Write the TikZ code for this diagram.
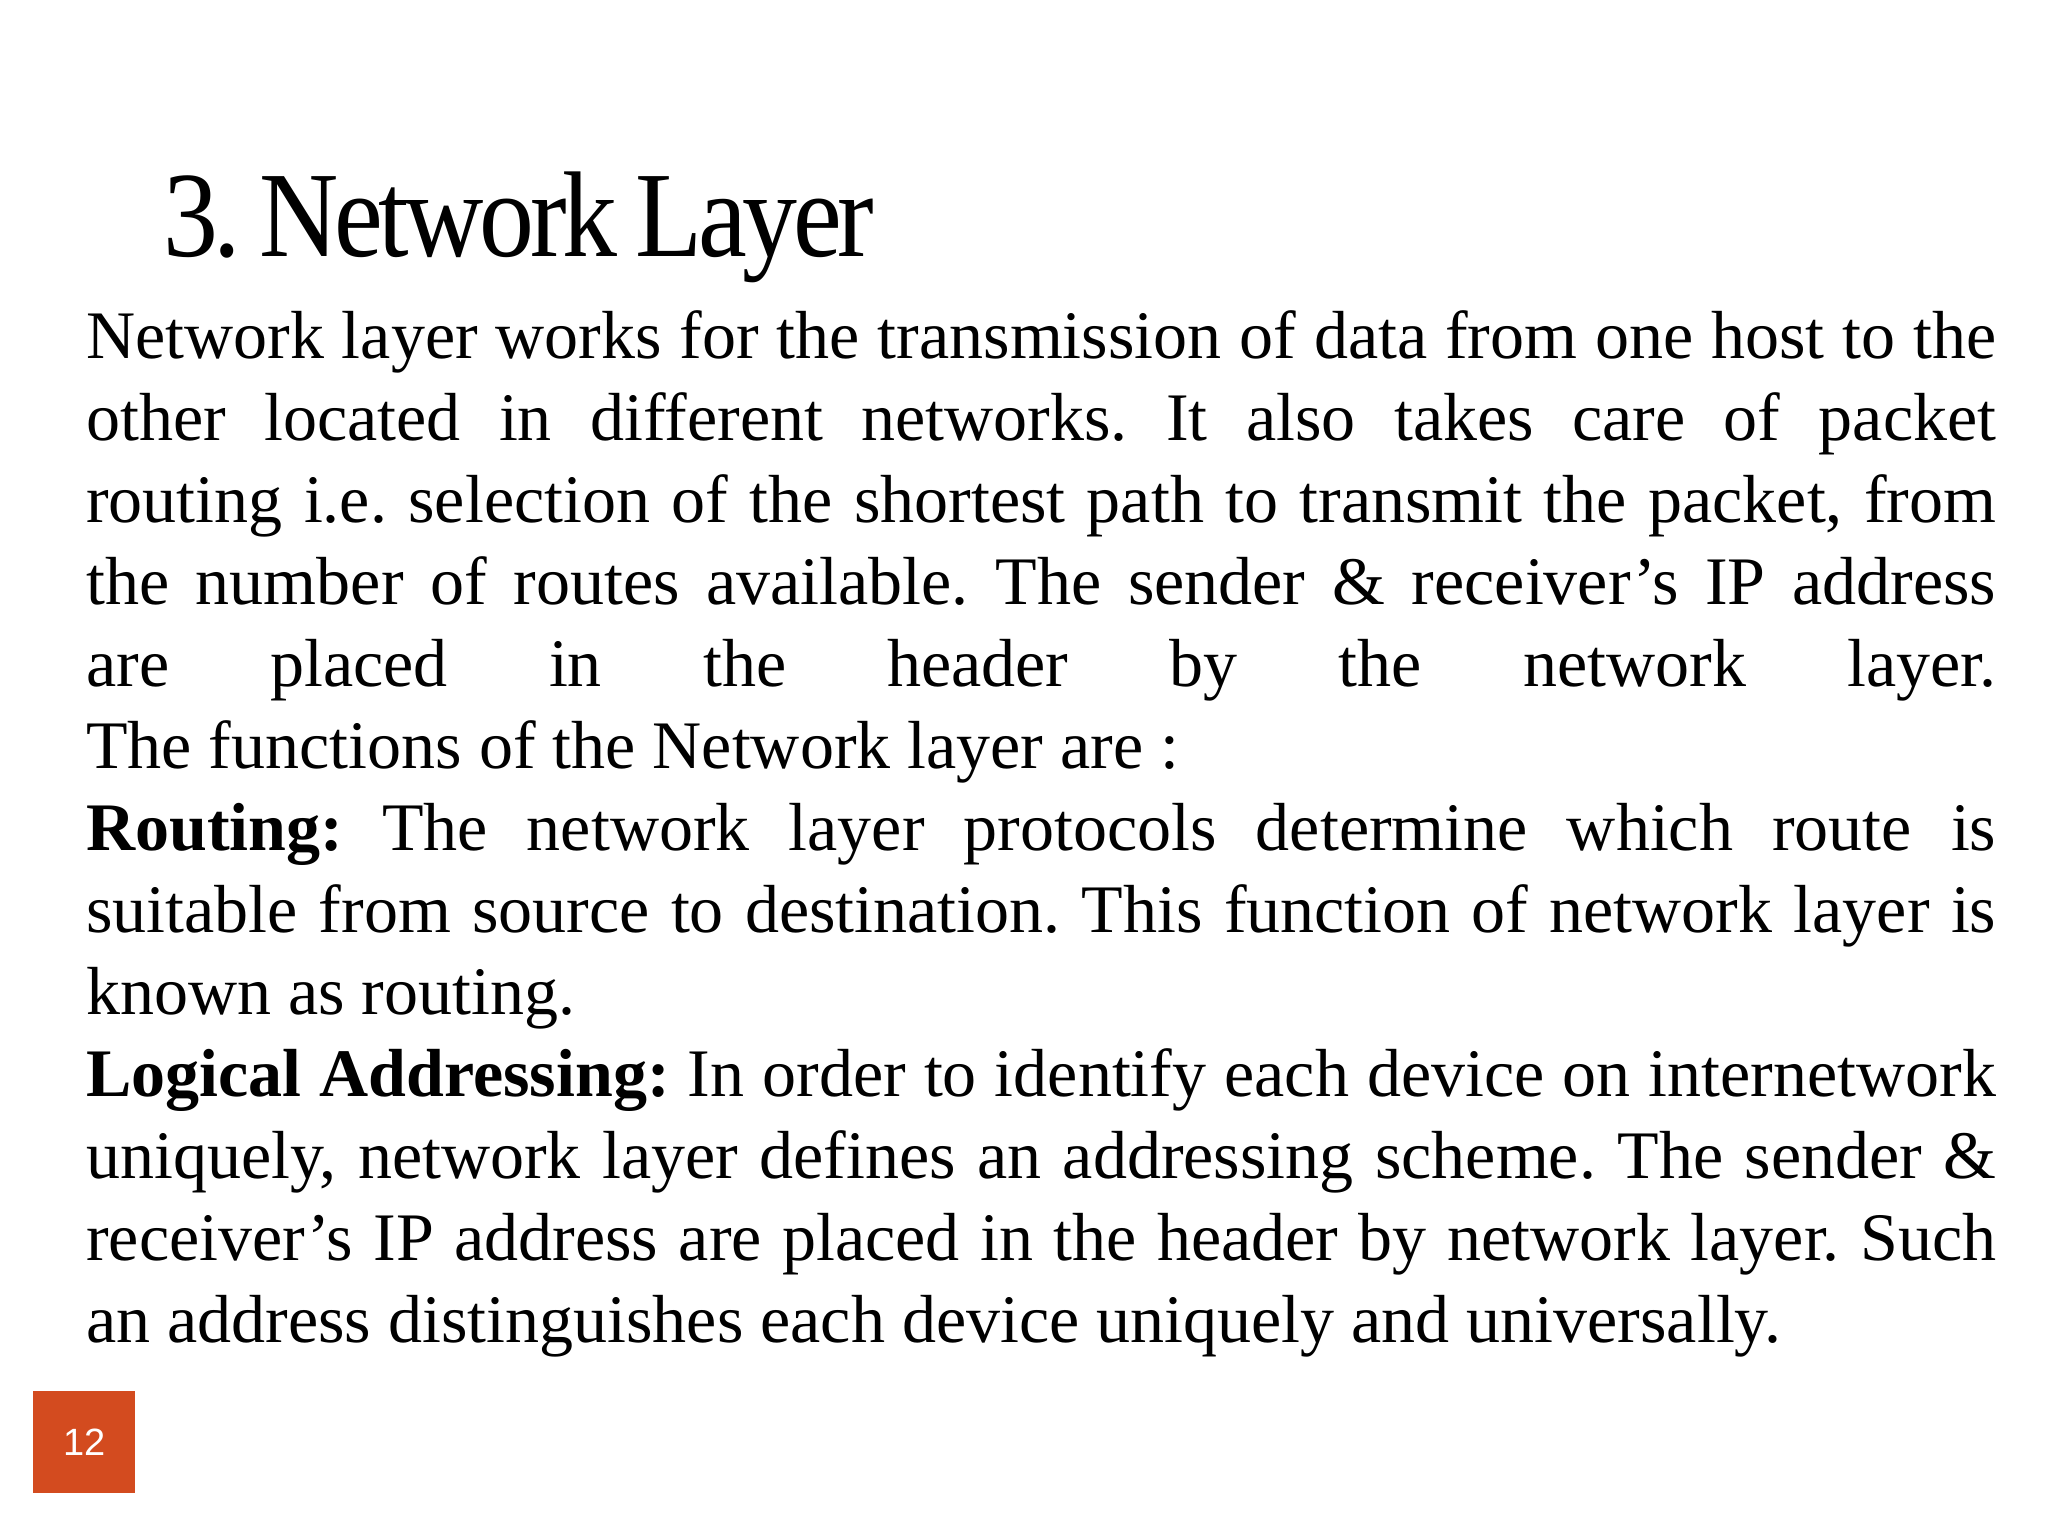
\documentclass[tikz,border=0pt]{standalone}
\usepackage{fontspec}
\setmainfont{Liberation Serif}
\newfontfamily\numfont{Liberation Sans}
\definecolor{pagebox}{HTML}{D34B1F}
\begin{document}
\begin{tikzpicture}[x=1pt,y=1pt]
\useasboundingbox[fill=white] (0,0) rectangle (2048,1536);
\node[anchor=base west,inner sep=0] (title) at (163,1279) {\scalebox{0.9}[1]{\fontsize{122}{130}\selectfont\addfontfeature{LetterSpace=-4}3.\,Network\,Layer}};
\node[anchor=base west,inner sep=0] (body) at (86,1177) {\parbox[t]{1910pt}{\fontsize{68}{82}\selectfont\parindent=0pt\frenchspacing
Network layer works for the transmission of data from one host to the\linebreak
other located in different networks. It also takes care of packet\linebreak
routing i.e. selection of the shortest path to transmit the packet, from\linebreak
the number of routes available. The sender \& receiver’s IP address\linebreak
are placed in the header by the network layer.\linebreak
The functions of the Network layer are :\par
\textbf{Routing:} The network layer protocols determine which route is\linebreak
suitable from source to destination. This function of network layer is\linebreak
known as routing.\par
\textbf{Logical Addressing:} In order to identify each device on internetwork\linebreak
uniquely, network layer defines an addressing scheme. The sender \&\linebreak
receiver’s IP address are placed in the header by network layer. Such\linebreak
an address distinguishes each device uniquely and universally.\par}};
\node[fill=pagebox,minimum width=102pt,minimum height=102pt,inner sep=0,anchor=south west,text=white,font=\numfont\fontsize{38}{42}\selectfont] (pg) at (33,43) {12};
\end{tikzpicture}
\end{document}
